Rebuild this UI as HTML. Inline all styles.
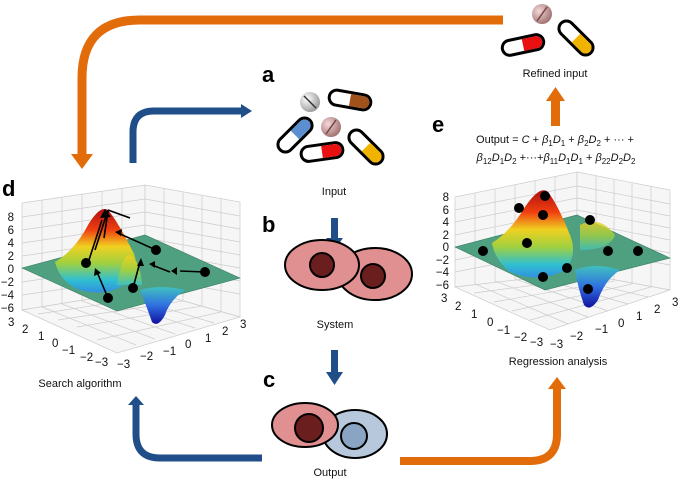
<!DOCTYPE html>
<html><head><meta charset="utf-8"><style>
body{margin:0;background:#fff}
svg{display:block;font-family:"Liberation Sans",sans-serif}
.lab{font-size:22px;font-weight:bold}
.t{font-size:11px;fill:#111}
.tick{font-size:11.5px;fill:#111}
</style></head><body>
<svg width="685" height="482" viewBox="0 0 685 482" xmlns="http://www.w3.org/2000/svg">
<defs>
<linearGradient id="pk" x1="0" y1="0" x2="0" y2="1">
<stop offset="0" stop-color="#b01010"/><stop offset="0.25" stop-color="#f04010"/><stop offset="0.45" stop-color="#f0d020"/><stop offset="0.65" stop-color="#a0d040"/><stop offset="0.85" stop-color="#30c0d0"/><stop offset="1" stop-color="#3090e0"/>
</linearGradient>
<linearGradient id="dp" x1="0" y1="0" x2="0" y2="1">
<stop offset="0" stop-color="#40c0c0"/><stop offset="0.5" stop-color="#3070e0"/><stop offset="1" stop-color="#1010a0"/>
</linearGradient>
<linearGradient id="hl" x1="0" y1="0" x2="0" y2="1">
<stop offset="0" stop-color="#f0d020"/><stop offset="0.5" stop-color="#a0d040"/><stop offset="1" stop-color="#40c0c0"/>
</linearGradient>
<radialGradient id="wp" cx="0.35" cy="0.35" r="0.7"><stop offset="0" stop-color="#fff"/><stop offset="1" stop-color="#999"/></radialGradient>
<radialGradient id="pp" cx="0.35" cy="0.35" r="0.7"><stop offset="0" stop-color="#f4d8d8"/><stop offset="1" stop-color="#a07070"/></radialGradient>
</defs>

<!-- arrows -->
<path d="M503 20 H140 Q82 20 82 78 V155" fill="none" stroke="#e36c0a" stroke-width="9"/>
<polygon points="71,154 93,154 82,169" fill="#e36c0a"/>
<path d="M133 163 V132 Q133 111 154 111 H242" fill="none" stroke="#1f4e89" stroke-width="7"/>
<polygon points="241,104 241,118 252,111" fill="#1f4e89"/>
<path d="M262 458 H160 Q136 458 136 434 V404" fill="none" stroke="#1f4e89" stroke-width="7"/>
<polygon points="128,405 144,405 136,396" fill="#1f4e89"/>
<path d="M400 461 H530 Q557 461 557 434 V388" fill="none" stroke="#e36c0a" stroke-width="8"/>
<polygon points="548,389 566,389 557,377" fill="#e36c0a"/>
<rect x="551" y="100" width="9" height="26" fill="#e36c0a"/>
<polygon points="546,101 565,101 555.5,87" fill="#e36c0a"/>
<rect x="331" y="218" width="7" height="22" fill="#1f4e89"/>
<polygon points="326,238 343,238 334.5,250" fill="#1f4e89"/>
<rect x="331" y="350" width="7" height="24" fill="#1f4e89"/>
<polygon points="326,372 343,372 334.5,385" fill="#1f4e89"/>

<!-- labels -->
<text class="lab" x="262" y="82">a</text>
<text class="lab" x="262" y="232">b</text>
<text class="lab" x="263" y="387">c</text>
<text class="lab" x="2" y="196">d</text>
<text class="lab" x="432" y="132">e</text>
<text class="t" x="334" y="195" text-anchor="middle">Input</text>
<text class="t" x="335" y="328" text-anchor="middle">System</text>
<text class="t" x="330" y="476" text-anchor="middle">Output</text>
<text class="t" x="555" y="77" text-anchor="middle">Refined input</text>
<text class="t" x="80" y="387" text-anchor="middle">Search algorithm</text>
<text class="t" x="558" y="365" text-anchor="middle">Regression analysis</text>
<text class="t" x="555" y="143" text-anchor="middle">Output = <tspan font-style="italic">C</tspan> + <tspan font-style="italic">β</tspan><tspan font-size="8" dy="3">1</tspan><tspan dy="-3" font-style="italic">D</tspan><tspan font-size="8" dy="3">1</tspan><tspan dy="-3"> + </tspan><tspan font-style="italic">β</tspan><tspan font-size="8" dy="3">2</tspan><tspan dy="-3" font-style="italic">D</tspan><tspan font-size="8" dy="3">2</tspan><tspan dy="-3"> + ··· +</tspan></text>
<text class="t" x="556" y="161" text-anchor="middle"><tspan font-style="italic">β</tspan><tspan font-size="8" dy="3">12</tspan><tspan dy="-3" font-style="italic">D</tspan><tspan font-size="8" dy="3">1</tspan><tspan dy="-3" font-style="italic">D</tspan><tspan font-size="8" dy="3">2</tspan><tspan dy="-3"> +···+</tspan><tspan font-style="italic">β</tspan><tspan font-size="8" dy="3">11</tspan><tspan dy="-3" font-style="italic">D</tspan><tspan font-size="8" dy="3">1</tspan><tspan dy="-3" font-style="italic">D</tspan><tspan font-size="8" dy="3">1</tspan><tspan dy="-3"> + </tspan><tspan font-style="italic">β</tspan><tspan font-size="8" dy="3">22</tspan><tspan dy="-3" font-style="italic">D</tspan><tspan font-size="8" dy="3">2</tspan><tspan dy="-3" font-style="italic">D</tspan><tspan font-size="8" dy="3">2</tspan></text>

<!-- pills a -->
<circle cx="310" cy="102" r="10" fill="url(#wp)"/><line x1="304" y1="96" x2="316" y2="108" stroke="#333" stroke-width="1.5"/>
<g transform="translate(350,100) rotate(10)"><rect x="-21" y="-7.5" width="42" height="15" rx="7.5" fill="#fff" stroke="#000" stroke-width="3"/><path d="M0 -6 H13.5 A6 6 0 0 1 13.5 6 H0 Z" fill="#a0521a"/></g>
<g transform="translate(295,135) rotate(-45)"><rect x="-21" y="-7.5" width="42" height="15" rx="7.5" fill="#fff" stroke="#000" stroke-width="3"/><path d="M0 -6 H13.5 A6 6 0 0 1 13.5 6 H0 Z" fill="#5b8fd0"/></g>
<circle cx="331" cy="127" r="10" fill="url(#pp)"/><line x1="326" y1="134" x2="336" y2="120" stroke="#744" stroke-width="1.5"/>
<g transform="translate(366,147) rotate(45)"><rect x="-21" y="-7.5" width="42" height="15" rx="7.5" fill="#fff" stroke="#000" stroke-width="3"/><path d="M0 -6 H13.5 A6 6 0 0 1 13.5 6 H0 Z" fill="#f0b400"/></g>
<g transform="translate(322,152) rotate(-8)"><rect x="-21" y="-7.5" width="42" height="15" rx="7.5" fill="#fff" stroke="#000" stroke-width="3"/><path d="M0 -6 H13.5 A6 6 0 0 1 13.5 6 H0 Z" fill="#e81010"/></g>
<!-- refined pills -->
<circle cx="542" cy="14" r="10" fill="url(#pp)"/><line x1="537" y1="21" x2="547" y2="7" stroke="#744" stroke-width="1.5"/>
<g transform="translate(523,45) rotate(-12)"><rect x="-21" y="-7.5" width="42" height="15" rx="7.5" fill="#fff" stroke="#000" stroke-width="3"/><path d="M0 -6 H13.5 A6 6 0 0 1 13.5 6 H0 Z" fill="#e81010"/></g>
<g transform="translate(576,38) rotate(45)"><rect x="-21" y="-7.5" width="42" height="15" rx="7.5" fill="#fff" stroke="#000" stroke-width="3"/><path d="M0 -6 H13.5 A6 6 0 0 1 13.5 6 H0 Z" fill="#f0b400"/></g>

<!-- cells b -->
<ellipse cx="375" cy="274" rx="37" ry="26" fill="#e09090" stroke="#000" stroke-width="2"/>
<circle cx="373" cy="276" r="12" fill="#6b1e1e" stroke="#000" stroke-width="2"/>
<ellipse cx="322" cy="265" rx="37" ry="25" fill="#e09090" stroke="#000" stroke-width="2"/>
<circle cx="322" cy="265" r="12" fill="#6b1e1e" stroke="#000" stroke-width="2"/>
<!-- cells c -->
<ellipse cx="355" cy="434" rx="32" ry="24" fill="#b8c8dc" stroke="#000" stroke-width="2"/>
<circle cx="354" cy="436" r="13" fill="#8aa4c4" stroke="#000" stroke-width="2"/>
<ellipse cx="305" cy="425" rx="33" ry="22" fill="#e09090" stroke="#000" stroke-width="2"/>
<circle cx="309" cy="428" r="14" fill="#6b1e1e" stroke="#000" stroke-width="2"/>

<!-- plot d -->
<g stroke="#ccc" stroke-width="0.7" fill="none">
<polygon points="22,203 145,185 145,290 22,310" fill="#f6f6f6"/>
<polygon points="145,185 240,202 240,317 145,290" fill="#f6f6f6"/>
<polygon points="22,310 145,290 240,317 117,353" fill="#f6f6f6"/>
<path d="M22,217 L145,199 L240,216 M22,230 L145,212 L240,229 M22,243 L145,225 L240,242 M22,256 L145,238 L240,255 M22,269 L145,251 L240,268 M22,282 L145,264 L240,281 M22,295 L145,277 L240,294"/>
<path d="M42,200 V307 L136,345 M62,197 V304 L155,339 M82,194 V301 L175,334 M102,191 V298 L195,328 M122,188 V295 L214,323 M164,189 V295 L38,314 M183,192 V301 L58,320 M202,196 V306 L77,327 M221,199 V312 L97,340"/>
</g>
<polygon points="22,268 145,235 240,278 117,311" fill="#4fa080" stroke="#3a7a60" stroke-width="0.6"/>
<path d="M55,262 Q75,250 88,225 Q100,205 108,210 Q118,222 132,250 Q140,262 130,280 Q110,298 80,290 Q60,282 55,262Z" fill="url(#pk)"/>
<path d="M117,285 Q122,255 130,255 Q140,260 142,285 Z" fill="url(#hl)"/>
<path d="M140,290 Q160,284 185,290 Q170,300 165,315 Q158,328 152,322 Q146,305 140,290Z" fill="url(#dp)"/>
<g stroke="#000" stroke-width="1.6" fill="none">
<path d="M108,298 L97,272 M88,263 L102,220 M133,288 L140,262 M156,250 L118,233 M205,272 L180,271 M170,272 L152,265 M108,211 L104,238 M108,210 L130,218 M108,210 L95,250"/>
</g>
<g fill="#000">
<polygon points="105,209 100,218 111,217"/>
<polygon points="95,268 94,276 101,273"/>
<polygon points="141,258 137,266 144,266"/>
<polygon points="115,232 122,229 121,236"/>
<polygon points="177,267 177,275 171,271"/>
<polygon points="149,264 155,261 155,268"/>
</g>
<g fill="#000"><circle cx="86" cy="263" r="5"/><circle cx="108" cy="298" r="5"/><circle cx="133" cy="288" r="5"/><circle cx="156" cy="250" r="5"/><circle cx="205" cy="272" r="5"/></g>
<g class="tick" text-anchor="end">
<text x="14" y="221">8</text><text x="14" y="234">6</text><text x="14" y="247">4</text><text x="14" y="260">2</text><text x="14" y="273">0</text><text x="14" y="286">−2</text><text x="14" y="299">−4</text><text x="14" y="312">−6</text>
</g>
<g class="tick"><text x="8" y="326">3</text><text x="22" y="333">2</text><text x="38" y="340">1</text><text x="52" y="347">0</text><text x="62" y="354">−1</text><text x="80" y="361">−2</text><text x="95" y="366">−3</text><text x="117" y="368">−3</text><text x="140" y="360">−2</text><text x="163" y="355">−1</text><text x="185" y="348">0</text><text x="205" y="342">1</text><text x="222" y="335">2</text><text x="240" y="328">3</text></g>

<!-- plot e -->
<g stroke="#ccc" stroke-width="0.7" fill="none">
<polygon points="455,197 577,172 577,273 455,287" fill="#f6f6f6"/>
<polygon points="577,172 670,190 670,290 577,273" fill="#f6f6f6"/>
<polygon points="455,287 577,273 670,290 550,330" fill="#f6f6f6"/>
<path d="M455,210 L577,186 L670,204 M455,222 L577,198 L670,216 M455,235 L577,210 L670,228 M455,247 L577,222 L670,240 M455,260 L577,235 L670,253 M455,272 L577,248 L670,265"/>
<path d="M475,193 V284 L568,324 M495,189 V281 L588,317 M515,185 V279 L608,311 M535,181 V277 L628,304 M555,177 V275 L648,297 M596,176 V277 L474,293 M614,179 V281 L494,302 M632,183 V284 L512,311 M651,186 V287 L530,320"/>
</g>
<polygon points="455,247 577,215 670,258 545,290" fill="#4fa080" stroke="#3a7a60" stroke-width="0.6"/>
<path d="M492,243 Q510,232 525,207 Q540,185 548,192 Q558,205 570,235 Q578,255 565,270 Q540,284 510,272 Q495,260 492,243Z" fill="url(#pk)"/>
<path d="M580,225 Q600,215 615,235 Q610,250 580,250Z" fill="url(#hl)" opacity="0.8"/>
<path d="M575,270 Q595,262 620,270 Q605,280 598,300 Q590,312 584,305 Q578,288 575,270Z" fill="url(#dp)"/>
<g fill="#000"><circle cx="483" cy="251" r="5"/><circle cx="519" cy="208" r="5"/><circle cx="527" cy="243" r="5"/><circle cx="545" cy="196" r="5"/><circle cx="543" cy="215" r="5"/><circle cx="590" cy="220" r="5"/><circle cx="608" cy="251" r="5"/><circle cx="638" cy="251" r="5"/><circle cx="543" cy="277" r="5"/><circle cx="567" cy="268" r="5"/><circle cx="588" cy="289" r="5"/></g>
<g class="tick" text-anchor="end">
<text x="449" y="201">8</text><text x="449" y="214">6</text><text x="449" y="226">4</text><text x="449" y="239">2</text><text x="449" y="251">0</text><text x="449" y="264">−2</text><text x="449" y="276">−4</text><text x="449" y="289">−6</text>
</g>
<g class="tick"><text x="441" y="302">3</text><text x="455" y="310">2</text><text x="471" y="318">1</text><text x="487" y="326">0</text><text x="497" y="334">−1</text><text x="514" y="341">−2</text><text x="530" y="346">−3</text><text x="550" y="348">−3</text><text x="570" y="340">−2</text><text x="595" y="333">−1</text><text x="618" y="327">0</text><text x="636" y="320">1</text><text x="654" y="313">2</text><text x="672" y="306">3</text></g>
</svg>
</body></html>
